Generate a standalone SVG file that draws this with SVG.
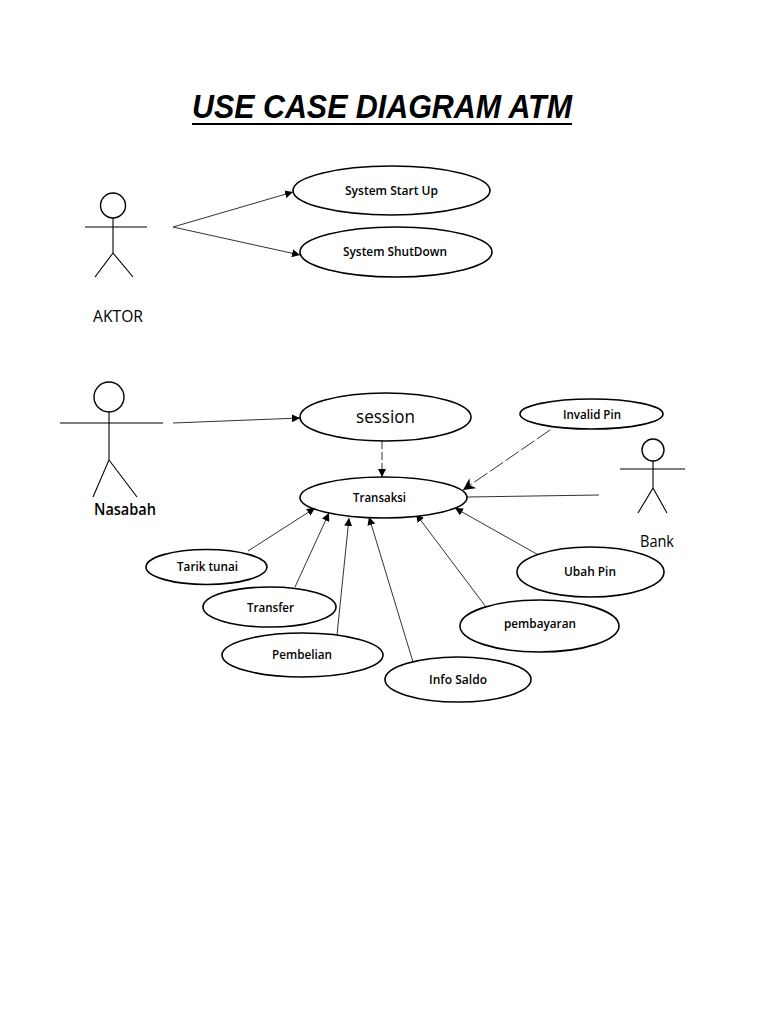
<svg xmlns="http://www.w3.org/2000/svg" width="768" height="1024" viewBox="0 0 768 1024">
<style>
.uc{fill:#fff;stroke:#000;stroke-width:1.6}
.act{fill:none;stroke:#000;stroke-width:1.1}
.head{fill:#fff;stroke:#000;stroke-width:1.4}
.lbl{font-family:"Open Sans","Liberation Sans",Arial,sans-serif;font-weight:600;font-size:12px;fill:#000;text-anchor:middle}
.name{font-family:"Open Sans","Liberation Sans",sans-serif;font-size:15.5px;fill:#000;text-anchor:middle}
.con{fill:none;stroke:#333;stroke-width:1}
</style>
<defs>
<marker id="arr" viewBox="0 0 10 10" refX="10" refY="5" markerWidth="8" markerHeight="8" markerUnits="userSpaceOnUse" orient="auto">
<path d="M0,0 L10,5 L0,10 z" fill="#000"/>
</marker>
<marker id="arrB" viewBox="0 0 10 10" refX="10" refY="5" markerWidth="12" markerHeight="12" markerUnits="userSpaceOnUse" orient="auto">
<path d="M0,0 L10,5 L0,10 L3,5 z" fill="#000"/>
</marker>
</defs>
<rect width="768" height="1024" fill="#fff"/>
<g id="title">
<text x="382" y="118" font-family="Liberation Sans,Arial,sans-serif" font-weight="bold" font-style="italic" font-size="34" text-anchor="middle" textLength="380" lengthAdjust="spacingAndGlyphs">USE CASE DIAGRAM ATM</text>
<line x1="192" y1="124" x2="572" y2="124" stroke="#000" stroke-width="2.2"/>
</g>
<g id="connectors">
<line class="con" x1="173" y1="227" x2="293" y2="192" marker-end="url(#arr)"/>
<line class="con" x1="173" y1="227" x2="300" y2="255" marker-end="url(#arr)"/>
<line class="con" x1="173" y1="423" x2="300" y2="418" marker-end="url(#arr)"/>
<line class="con" x1="382" y1="441" x2="382" y2="477" stroke-dasharray="8,3" stroke-width="1.3" marker-end="url(#arr)"/>
<line class="con" x1="550" y1="430" x2="463" y2="490" stroke-dasharray="16,3" marker-end="url(#arrB)"/>
<line class="con" x1="599" y1="495" x2="467" y2="497" stroke-width="1.3"/>
<line class="con" x1="248" y1="551" x2="315" y2="508" marker-end="url(#arr)"/>
<line class="con" x1="295" y1="587" x2="329" y2="513" marker-end="url(#arr)"/>
<line class="con" x1="337" y1="635" x2="349" y2="518" marker-end="url(#arr)"/>
<line class="con" x1="413" y1="662" x2="369" y2="517" marker-end="url(#arr)"/>
<line class="con" x1="486" y1="607" x2="416" y2="514" marker-end="url(#arr)"/>
<line class="con" x1="542" y1="557" x2="455" y2="508" marker-end="url(#arr)"/>
</g>
<g id="aktor">
<circle class="head" cx="113" cy="205.5" r="12.5"/>
<path class="act" d="M85,227 H147 M113,218 V253 L95,277 M113,253 L133,277"/>
<text class="name" x="118" y="322" textLength="50" lengthAdjust="spacingAndGlyphs">AKTOR</text>
</g>
<g id="nasabah">
<circle class="head" cx="109" cy="397" r="15"/>
<path class="act" d="M60,423 H163 M109,412 V460 L93,497 M109,460 L137,497"/>
<text class="name" x="125" y="515" font-weight="600" textLength="62" lengthAdjust="spacingAndGlyphs">Nasabah</text>
</g>
<g id="bank">
<circle class="head" cx="653" cy="450" r="11"/>
<path class="act" d="M620,469 H685 M653,461 V488 L638,513 M653,488 L667,513"/>
<text class="name" x="657" y="547" textLength="34" lengthAdjust="spacingAndGlyphs">Bank</text>
</g>
<g id="startup">
<ellipse class="uc" cx="391.5" cy="190.5" rx="98.5" ry="24.5"/>
<text class="lbl" x="391.5" y="195" textLength="93" lengthAdjust="spacingAndGlyphs">System Start Up</text>
</g>
<g id="shutdown">
<ellipse class="uc" cx="396" cy="252" rx="96" ry="25"/>
<text class="lbl" x="395" y="256" textLength="104" lengthAdjust="spacingAndGlyphs">System ShutDown</text>
</g>
<g id="session">
<ellipse class="uc" cx="385.5" cy="417" rx="85.5" ry="24"/>
<text x="385.5" y="423" font-family="Open Sans,Liberation Sans,sans-serif" font-size="18" text-anchor="middle" textLength="59" lengthAdjust="spacingAndGlyphs">session</text>
</g>
<g id="invalidpin">
<ellipse class="uc" cx="591.5" cy="414" rx="71.5" ry="15"/>
<text class="lbl" x="592" y="419" textLength="58" lengthAdjust="spacingAndGlyphs">Invalid Pin</text>
</g>
<g id="transaksi">
<ellipse class="uc" cx="383.5" cy="497.5" rx="83.5" ry="20.5"/>
<text class="lbl" x="379.5" y="502" textLength="53" lengthAdjust="spacingAndGlyphs">Transaksi</text>
</g>
<g id="tariktunai">
<ellipse class="uc" cx="206.5" cy="567" rx="60.5" ry="17.5"/>
<text class="lbl" x="207.5" y="571" textLength="61" lengthAdjust="spacingAndGlyphs">Tarik tunai</text>
</g>
<g id="transfer">
<ellipse class="uc" cx="269.5" cy="607" rx="66.5" ry="20"/>
<text class="lbl" x="270.5" y="612" textLength="47" lengthAdjust="spacingAndGlyphs">Transfer</text>
</g>
<g id="pembelian">
<ellipse class="uc" cx="302.5" cy="655" rx="80.5" ry="22"/>
<text class="lbl" x="302" y="659" textLength="60" lengthAdjust="spacingAndGlyphs">Pembelian</text>
</g>
<g id="infosaldo">
<ellipse class="uc" cx="458" cy="679.5" rx="73" ry="22.5"/>
<text class="lbl" x="458" y="684" textLength="58" lengthAdjust="spacingAndGlyphs">Info Saldo</text>
</g>
<g id="pembayaran">
<ellipse class="uc" cx="539.5" cy="626" rx="79.5" ry="26"/>
<text class="lbl" x="540" y="628" textLength="72" lengthAdjust="spacingAndGlyphs">pembayaran</text>
</g>
<g id="ubahpin">
<ellipse class="uc" cx="590.5" cy="572" rx="73.5" ry="25"/>
<text class="lbl" x="590" y="576" textLength="52" lengthAdjust="spacingAndGlyphs">Ubah Pin</text>
</g>
</svg>
